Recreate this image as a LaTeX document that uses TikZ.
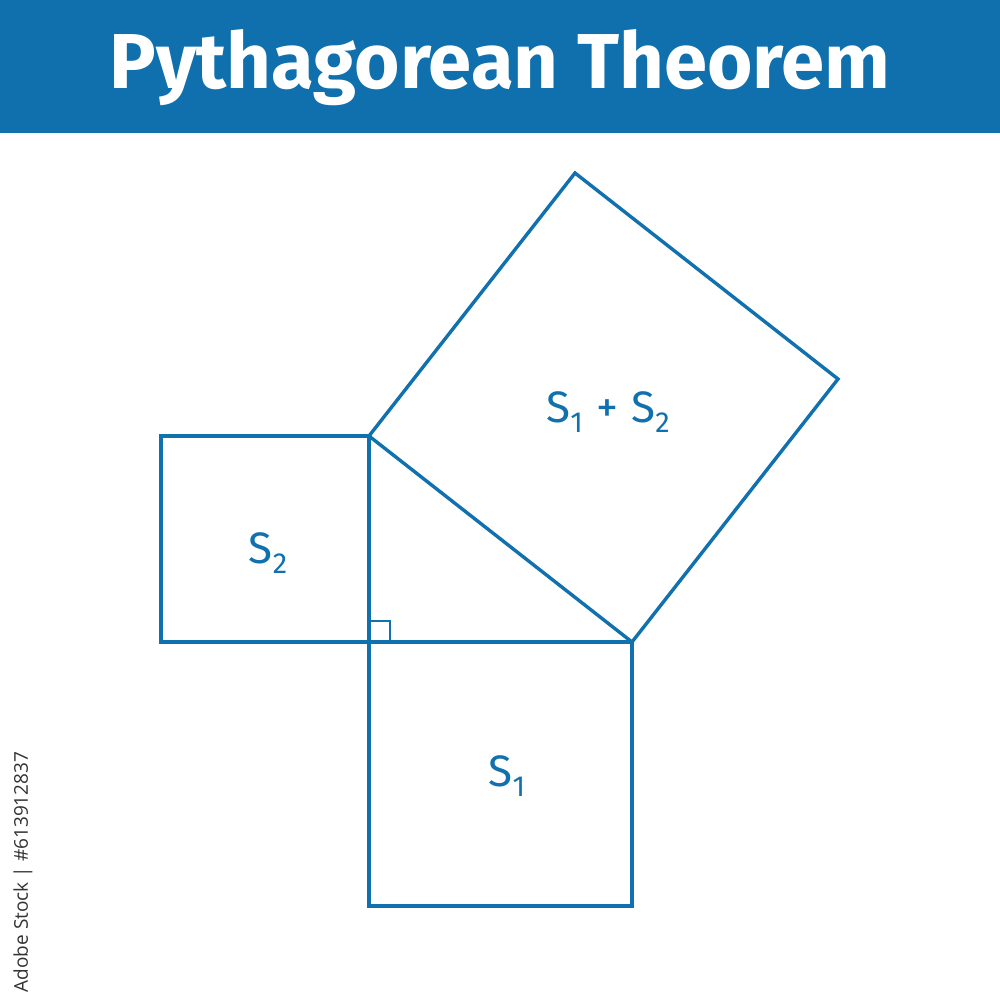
\documentclass[tikz,border=0pt]{standalone}
\usepackage{fontspec}
\setmainfont{Fira Sans}
\newfontfamily\stockfont{Open Sans}
\definecolor{pblue}{HTML}{1170AE}
\definecolor{barblue}{HTML}{0F70AD}
\newcommand{\Ssub}[1]{S\raisebox{-0.4ex}{\fontsize{29}{29}\selectfont #1}}
\begin{document}
\begin{tikzpicture}[x=1pt,y=-1pt,
  edge/.style={draw=pblue,line width=3.4pt,line join=miter},
  lbl/.style={text=pblue,font=\fontsize{44}{44}\selectfont,inner sep=0pt}]
\useasboundingbox (0,0) rectangle (1000,995);
\fill[white] (0,0) rectangle (1000,995);
\fill[barblue] (0,0) rectangle (1000,133);
\node[text=white,inner sep=0pt] (title) at (500,68) {\resizebox{780pt}{!}{\bfseries Pythagorean Theorem}};
% vertices
\coordinate (C) at (369,642);
\coordinate (A) at (369,436);
\coordinate (B) at (632,642);
\coordinate (D) at (575,173);
\coordinate (E) at (838,379);
\coordinate (L1) at (161,436);
\coordinate (L2) at (161,642);
\coordinate (M1) at (369,906);
\coordinate (M2) at (632,906);
% squares
\draw[edge] (A) -- (D) -- (E) -- (B) -- cycle;
\draw[edge] (L1) -- (A) -- (C) -- (L2) -- cycle;
\draw[edge] (C) -- (B) -- (M2) -- (M1) -- cycle;
% right angle mark
\draw[draw=pblue,line width=1.6pt] (369,621) -- (390,621) -- (390,642);
% labels
\node[lbl] (s2) at (268,553) {\Ssub{2}};
\node[lbl] (s1) at (507,776) {\Ssub{1}};
\node[lbl] (s12) at (608,412) {\Ssub{1}\hspace{0.3em}+\hspace{0.3em}\Ssub{2}};
% stock text
\node[rotate=90,text=black!80,inner sep=0pt,font=\stockfont\fontsize{19}{19}\selectfont] (stock) at (23,872) {Adobe Stock | \#613912837};
\end{tikzpicture}
\end{document}
